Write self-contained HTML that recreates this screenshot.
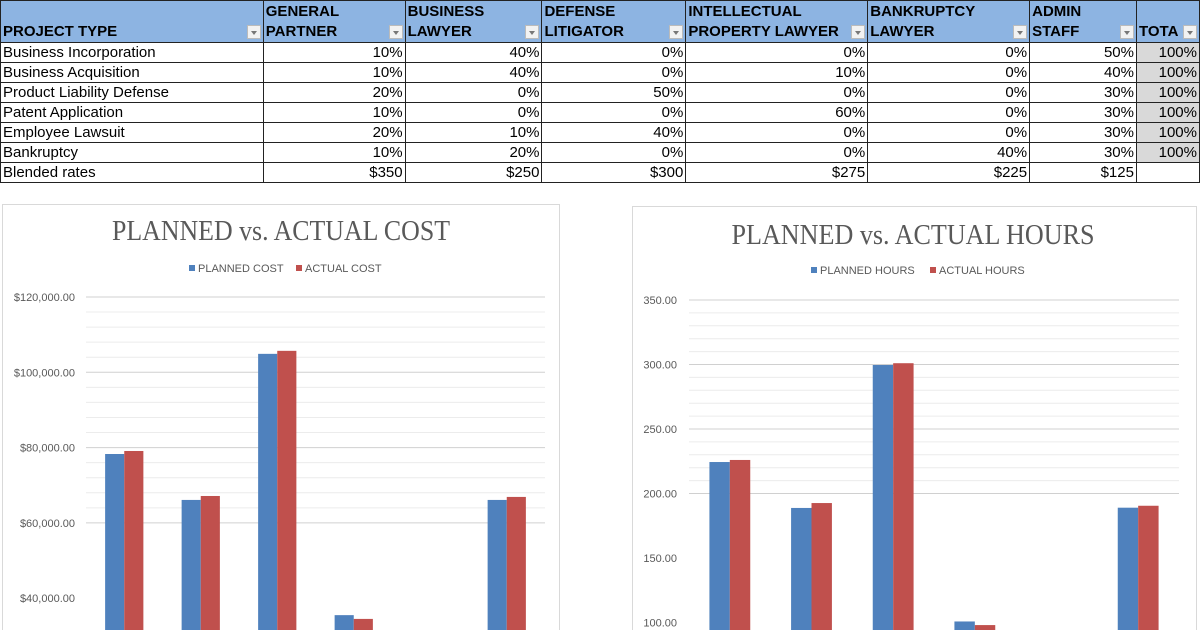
<!DOCTYPE html>
<html style="overflow:hidden"><head><meta charset="utf-8"><style>
html,body{margin:0;width:1200px;height:630px;overflow:hidden}
body{background:#fff;font-family:"Liberation Sans",Arial,sans-serif;position:relative}
table{position:absolute;left:0;top:0;border-collapse:collapse;table-layout:fixed;font-size:15px;color:#000}
td{border:1px solid #222;padding:0 2px;height:19px;line-height:19px;white-space:nowrap;overflow:hidden;text-align:right}
td.l{text-align:left}
tr.h td{background:#8db4e2;font-weight:bold;text-align:left;height:41px;line-height:20px;vertical-align:bottom;position:relative;border-bottom:1px solid #222}
tr.h td .dd{position:absolute;right:2px;bottom:3px;width:14px;height:14px;background:#f2f2f2;border:1px solid #bbb;box-sizing:border-box}
tr.h td .dd:after{content:"";position:absolute;left:3px;top:5px;border-left:3px solid transparent;border-right:3px solid transparent;border-top:4px solid #777}
td.t{background:#d9d9d9}
svg{position:absolute;left:0;top:0}
</style></head><body>
<table>
<colgroup><col style="width:263px"><col style="width:142px"><col style="width:137px"><col style="width:144px"><col style="width:182px"><col style="width:162px"><col style="width:107px"><col style="width:63px"></colgroup>
<tr class="h">
<td>PROJECT TYPE<span class="dd"></span></td>
<td>GENERAL<br>PARTNER<span class="dd"></span></td>
<td>BUSINESS<br>LAWYER<span class="dd"></span></td>
<td>DEFENSE<br>LITIGATOR<span class="dd"></span></td>
<td>INTELLECTUAL<br>PROPERTY LAWYER<span class="dd"></span></td>
<td>BANKRUPTCY<br>LAWYER<span class="dd"></span></td>
<td>ADMIN<br>STAFF<span class="dd"></span></td>
<td>TOTA<span class="dd"></span></td>
</tr>
<tr><td class="l">Business Incorporation</td><td>10%</td><td>40%</td><td>0%</td><td>0%</td><td>0%</td><td>50%</td><td class="t">100%</td></tr>
<tr><td class="l">Business Acquisition</td><td>10%</td><td>40%</td><td>0%</td><td>10%</td><td>0%</td><td>40%</td><td class="t">100%</td></tr>
<tr><td class="l">Product Liability Defense</td><td>20%</td><td>0%</td><td>50%</td><td>0%</td><td>0%</td><td>30%</td><td class="t">100%</td></tr>
<tr><td class="l">Patent Application</td><td>10%</td><td>0%</td><td>0%</td><td>60%</td><td>0%</td><td>30%</td><td class="t">100%</td></tr>
<tr><td class="l">Employee Lawsuit</td><td>20%</td><td>10%</td><td>40%</td><td>0%</td><td>0%</td><td>30%</td><td class="t">100%</td></tr>
<tr><td class="l">Bankruptcy</td><td>10%</td><td>20%</td><td>0%</td><td>0%</td><td>40%</td><td>30%</td><td class="t">100%</td></tr>
<tr><td class="l">Blended rates</td><td>$350</td><td>$250</td><td>$300</td><td>$275</td><td>$225</td><td>$125</td><td></td></tr>
</table>
<svg id="s" width="1200" height="630"></svg>
<script>
const categories=["Business Incorporation","Business Acquisition","Product Liability Defense","Patent Application","Employee Lawsuit","Bankruptcy"];
const plannedCost=[78300,66100,104900,35500,20000,66100];
const actualCost=[79100,67150,105700,34500,20500,66900];
const costTicks=[40000,60000,80000,100000,120000];
const costTickLabels=["$40,000.00","$60,000.00","$80,000.00","$100,000.00","$120,000.00"];
const plannedHours=[224.4,188.8,299.6,100.8,60,189];
const actualHours=[226,192.6,301,98,61,190.5];
const hourTicks=[100,150,200,250,300,350];
const hourTickLabels=["100.00","150.00","200.00","250.00","300.00","350.00"];

const NS="http://www.w3.org/2000/svg";
const svg=document.getElementById('s');
function mk(tag,attrs,parent){const e=document.createElementNS(NS,tag);for(const k in attrs)e.setAttribute(k,attrs[k]);(parent||svg).appendChild(e);return e;}

function chart(cfg){
  const g=mk('g',{});
  
  
  const fr=mk('rect',{x:cfg.fx,y:cfg.fy,width:cfg.fw,height:630-cfg.fy+5,fill:'#fff',stroke:'#d9d9d9'},g);
  
  
  const t=mk('text',{x:cfg.tx,y:cfg.ty,'text-anchor':'middle','font-family':'"Liberation Serif",serif','font-size':28,fill:'#595959',textLength:cfg.tl,lengthAdjust:'spacingAndGlyphs'},g);
  t.textContent=cfg.title;
  
  
  cfg.legend.forEach((L,i)=>{
    const r=mk('rect',{x:L.x,y:cfg.ly-4,width:6,height:6,fill:L.c},g);
    
    
    const tx=mk('text',{x:L.x+9,y:cfg.ly+3,'font-size':11,fill:'#595959'},g);
    tx.textContent=L.t;
    
    
  });
  const y=v=>cfg.y0-(v-cfg.v0)*cfg.ppu;
  for(let v=cfg.v0-cfg.major*3; v<=cfg.vmax+1e-6; v+=cfg.major/5){
    const yy=y(v); if(yy>632) continue;
    const isMajor=Math.abs((v/cfg.major)-Math.round(v/cfg.major))<1e-6;
    const l=mk('line',{x1:cfg.px0,x2:cfg.px1,y1:yy,y2:yy,stroke:isMajor?'#d0d0d0':'#ececec','stroke-width':1},g);
    
    
  }
  cfg.ticks.forEach((v,i)=>{
    const tx=mk('text',{x:cfg.lx,y:y(v)+4,'text-anchor':'end','font-size':11,fill:'#595959'},g);
    tx.textContent=cfg.tickLabels[i];
    
    
  });
  const n=categories.length, gw=(cfg.px1-cfg.px0)/n, bw=gw*0.25;
  categories.forEach((c,i)=>{
    const cx=cfg.px0+gw*(i+0.5);
    [[cfg.s1,'#4f81bd',cx-bw],[cfg.s2,'#c0504d',cx]].forEach(([arr,col,x],k)=>{
      const top=y(arr[i]);
      const b=mk('rect',{x:x,y:top,width:bw,height:Math.max(0,632-top),fill:col},g);
      
      
    });
  });
}
chart({name:'cost-chart',title:'PLANNED vs. ACTUAL COST',fx:2.5,fy:204.5,fw:557,tx:281,ty:240,tl:338,ly:269,
  legend:[{x:189,c:'#4f81bd',t:'PLANNED COST'},{x:296,c:'#c0504d',t:'ACTUAL COST'}],
  v0:120000,y0:297,ppu:75.3/20000,major:20000,vmax:120000,px0:86,px1:545,lx:75,
  ticks:costTicks,tickLabels:costTickLabels,s1:plannedCost,s2:actualCost});
chart({name:'hours-chart',title:'PLANNED vs. ACTUAL HOURS',fx:632.5,fy:206.5,fw:564,tx:913,ty:244,tl:363,ly:271,
  legend:[{x:811,c:'#4f81bd',t:'PLANNED HOURS'},{x:930,c:'#c0504d',t:'ACTUAL HOURS'}],
  v0:350,y0:300,ppu:64.5/50,major:50,vmax:350,px0:689,px1:1179,lx:677,
  ticks:hourTicks,tickLabels:hourTickLabels,s1:plannedHours,s2:actualHours});
</script>
</body></html>
